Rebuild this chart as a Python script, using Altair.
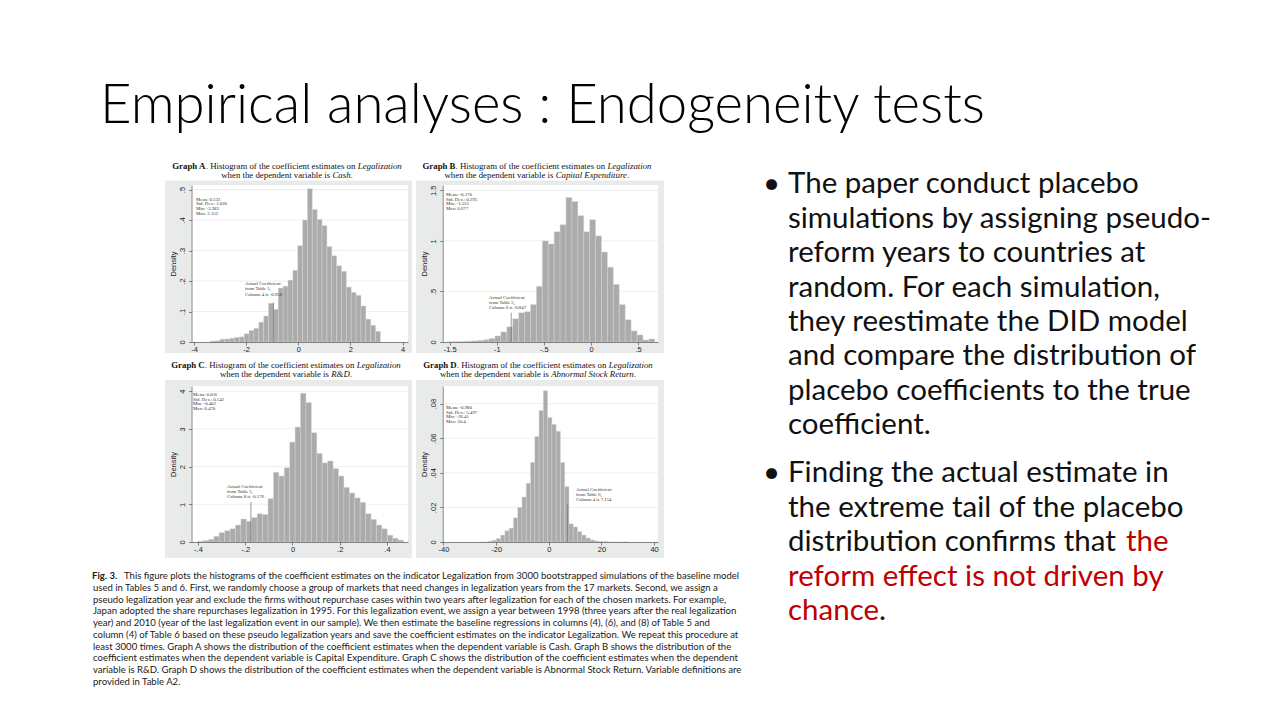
import altair as alt
import pandas as pd

# ---------------- values ----------------
slide_title = "Empirical analyses : Endogeneity tests"

bullet1 = ["The paper conduct placebo", "simulations by assigning pseudo-",
           "reform years to countries at", "random. For each simulation,",
           "they reestimate the DID model", "and compare the distribution of",
           "placebo coefficients to the true", "coefficient."]
bullet2 = ["Finding the actual estimate in", "the extreme tail of the placebo",
           "distribution confirms that"]
bullet2_red = ["the", "reform effect is not driven by", "chance"]
bullet2_end = "."

caption_head = "Fig. 3."
caption_lines = [
    "This figure plots the histograms of the coefficient estimates on the indicator Legalization from 3000 bootstrapped simulations of the baseline model",
    "used in Tables 5 and 6. First, we randomly choose a group of markets that need changes in legalization years from the 17 markets. Second, we assign a",
    "pseudo legalization year and exclude the firms without repurchase cases within two years after legalization for each of the chosen markets. For example,",
    "Japan adopted the share repurchases legalization in 1995. For this legalization event, we assign a year between 1998 (three years after the real legalization",
    "year) and 2010 (year of the last legalization event in our sample). We then estimate the baseline regressions in columns (4), (6), and (8) of Table 5 and",
    "column (4) of Table 6 based on these pseudo legalization years and save the coefficient estimates on the indicator Legalization. We repeat this procedure at",
    "least 3000 times. Graph A shows the distribution of the coefficient estimates when the dependent variable is Cash. Graph B shows the distribution of the",
    "coefficient estimates when the dependent variable is Capital Expenditure. Graph C shows the distribution of the coefficient estimates when the dependent",
    "variable is R&D. Graph D shows the distribution of the coefficient estimates when the dependent variable is Abnormal Stock Return. Variable definitions are",
    "provided in Table A2.",
]

panel_letters = ["A", "B", "C", "D"]
panel_dep = ["Cash", "Capital Expenditure", "R&D", "Abnormal Stock Return"]

cash_density = [0.003, 0.004, 0.009, 0.010, 0.012, 0.015, 0.017, 0.027, 0.038, 0.045,
                0.065, 0.085, 0.127, 0.107, 0.177, 0.183, 0.203, 0.235, 0.316, 0.400,
                0.503, 0.435, 0.402, 0.382, 0.313, 0.283, 0.250, 0.232, 0.180, 0.163,
                0.153, 0.118, 0.075, 0.055, 0.035]
capex_density = [0.003, 0.004, 0.005, 0.008, 0.011, 0.016, 0.022, 0.035, 0.06, 0.10,
                 0.15, 0.23, 0.29, 0.30, 0.37, 0.55, 1.00, 0.97, 1.09, 1.16,
                 1.43, 1.39, 1.25, 1.09, 1.21, 1.05, 0.89, 0.74, 0.57, 0.37,
                 0.22, 0.11, 0.07, 0.02, 0.03]
rd_density = [0.02, 0.04, 0.07, 0.15, 0.25, 0.30, 0.35, 0.45, 0.61, 0.55,
              0.65, 0.75, 0.73, 1.15, 1.85, 1.75, 1.97, 2.65, 3.05, 3.95,
              3.70, 2.90, 2.35, 2.10, 2.15, 1.95, 1.75, 1.45, 1.30, 1.17,
              1.05, 0.75, 0.60, 0.45, 0.35, 0.18, 0.10, 0.05]
asr_density = [0.0, 0.0, 0.0005, 0.001, 0.002, 0.004, 0.0065, 0.008, 0.014, 0.020,
               0.026, 0.034, 0.046, 0.061, 0.076, 0.0875, 0.072, 0.068, 0.064, 0.046,
               0.032, 0.0105, 0.0087, 0.006, 0.004, 0.0023, 0.0012, 0.0006, 0.0003, 0.0002,
               0.0001, 0.0, 0.0, 0.0, 0.0001]

densities = [cash_density, capex_density, rd_density, asr_density]
ranges = [(-3.383, 3.152), (-1.522, 0.677), (-0.402, 0.470), (-26.41, 30.4)]
stats = [["Mean: 0.533", "Std. Dev.: 1.020", "Min: -3.383", "Max: 3.152"],
         ["Mean: -0.170", "Std. Dev.: 0.293", "Min: -1.522", "Max: 0.677"],
         ["Mean: 0.056", "Std. Dev.: 0.142", "Min: -0.402", "Max: 0.470"],
         ["Mean: -0.980", "Std. Dev.: 5.497", "Min: -26.41", "Max: 30.4"]]
actual_coef = [-0.956, -0.847, -0.176, 7.154]
coef_marker_top = [0.13, 0.29, 1.06, 0.0217]
coef_source = ["from Table 5,", "from Table 5,", "from Table 5,", "from Table 6,"]
coef_column = ["Column 4", "Column 6", "Column 8", "Column 4"]

x_ticks = [[-4, -2, 0, 2, 4], [-1.5, -1, -0.5, 0, 0.5], [-0.4, -0.2, 0, 0.2, 0.4], [-40, -20, 0, 20, 40]]
y_ticks = [[0, 0.1, 0.2, 0.3, 0.4, 0.5], [0, 0.5, 1, 1.5], [0, 1, 2, 3, 4], [0, 0.02, 0.04, 0.06, 0.08]]

# ---------------- layout (page pixels) ----------------
W, H = 1264, 704
M = 8  # page margin


def cx(v):
    return v - M


LAYOUT = [
    dict(frame=(165, 412, 180.5, 353), plot=(191.5, 408, 185, 342), xdom=(-4.098, 4.21), ytop=0.515,
         tc=287, ty=(165.7, 175), stats=(196, 196.5), coef=(245, 281)),
    dict(frame=(416, 664, 180.5, 353), plot=(442.7, 658, 185, 342), xdom=(-1.574, 0.711), ytop=1.553,
         tc=537, ty=(165.7, 175), stats=(446, 192), coef=(489, 294.5)),
    dict(frame=(165, 412, 380, 558), plot=(191.5, 408, 386, 542), xdom=(-0.4275, 0.4889), ytop=4.14,
         tc=286, ty=(365, 374), stats=(193, 392), coef=(227, 483.5)),
    dict(frame=(416, 664, 380, 558), plot=(442.7, 658, 386, 542), xdom=(-40.3, 41.5), ytop=0.0902,
         tc=538, ty=(365, 374), stats=(446, 405), coef=(576, 486.5)),
]

# approximate Times metrics (per 1000 em) for placing the mixed-style panel titles
TR = {' ': 250, '.': 250, ',': 250, '&': 778, 'A': 722, 'B': 667, 'C': 667, 'D': 722, 'E': 611,
      'G': 722, 'H': 722, 'L': 611, 'R': 667, 'S': 556, 'a': 444, 'b': 500, 'c': 444, 'd': 500,
      'e': 444, 'f': 333, 'g': 500, 'h': 500, 'i': 278, 'k': 500, 'l': 278, 'm': 778, 'n': 500,
      'o': 500, 'p': 500, 'r': 333, 's': 389, 't': 278, 'u': 500, 'v': 500, 'w': 722, 'x': 500,
      'y': 500, 'z': 444}
TB = {'G': 778, 'r': 444, 'a': 500, 'p': 556, 'h': 556, ' ': 250, 'A': 722, 'B': 667, 'C': 722, 'D': 722}
TI = {' ': 250, '.': 250, '&': 778, 'A': 611, 'C': 667, 'D': 722, 'E': 611, 'L': 556, 'R': 611, 'S': 500,
      'a': 500, 'b': 500, 'c': 444, 'd': 500, 'e': 444, 'g': 500, 'h': 500, 'i': 278, 'k': 444,
      'l': 278, 'm': 722, 'n': 500, 'o': 500, 'p': 500, 'r': 389, 's': 389, 't': 278, 'u': 500,
      'x': 444, 'z': 389}
TFS = 8.8


def tw(s, table):
    return sum(table.get(ch, 500) for ch in s) * TFS / 1000.0


def text_layer(rows, **mk):
    df = pd.DataFrame(rows, columns=["text", "x", "y", "color"])
    return alt.Chart(df).mark_text(**mk).encode(
        x=alt.X("x:Q", scale=None, axis=None),
        y=alt.Y("y:Q", scale=None, axis=None),
        text="text:N",
        color=alt.Color("color:N", scale=None, legend=None),
    )


def rect_layer(x0, x1, y0, y1, fill):
    return alt.Chart(pd.DataFrame({"k": [0]})).mark_rect(fill=fill).encode(
        x=alt.value(cx(x0)), x2=alt.value(cx(x1)), y=alt.value(cx(y0)), y2=alt.value(cx(y1)))


# Stata-style labels: ".5" instead of "0.5"
LBL = "replace(replace(datum.label, '\u2212', '-'), '0.', '.')"


def panel_layers(i):
    lay = LAYOUT[i]
    dens = densities[i]
    lo, hi = ranges[i]
    n = len(dens)
    w = (hi - lo) / n
    df = pd.DataFrame({
        "lo": [lo + k * w for k in range(n)],
        "hi": [lo + (k + 1) * w for k in range(n)],
        "density": dens,
        "zero": [0.0] * n,
    })
    px0, px1, py0, py1 = lay["plot"]

    def xs():
        return alt.Scale(domain=list(lay["xdom"]), range=[cx(px0), cx(px1)], nice=False, zero=False)

    def ys():
        return alt.Scale(domain=[0, lay["ytop"]], range=[cx(py1), cx(py0)], nice=False, zero=False)

    f = lay["frame"]
    frame = rect_layer(f[0], f[1], f[2], f[3], "#E9EBEB")
    white = rect_layer(px0, px1, py0, py1, "#FFFFFF")

    grid = alt.Chart(pd.DataFrame({"t": y_ticks[i][1:]})).mark_rule(
        color="#E2E4E4", strokeWidth=0.6).encode(
        y=alt.Y("t:Q", scale=ys(), axis=None),
        x=alt.value(cx(px0)), x2=alt.value(cx(px1)))

    bars = alt.Chart(df).mark_rect(fill="#ABABAB", stroke="#DADADA", strokeWidth=0.4).encode(
        x=alt.X("lo:Q", scale=xs(), axis=alt.Axis(
            orient="bottom", offset=cx(py1) - H, values=x_ticks[i], format="~r", labelExpr=LBL,
            title=None, grid=False, domainColor="#555", domainWidth=0.7, tickColor="#555",
            tickWidth=0.7, tickSize=3, labelFontSize=7.5, labelFont="Liberation Sans",
            labelColor="#222", labelPadding=0, labelFlush=False, labelOverlap=False, zindex=2)),
        x2="hi:Q",
        y=alt.Y("density:Q", scale=ys(), axis=alt.Axis(
            orient="left", offset=-cx(px0), values=y_ticks[i], format="~r", labelExpr=LBL,
            title="Density", titleFontSize=7.5, titleFont="Liberation Sans", titleFontWeight="normal",
            titleColor="#222", titlePadding=1, grid=False, domainColor="#555", domainWidth=0.7,
            tickColor="#555", tickWidth=0.7, tickSize=3, labelFontSize=7.5,
            labelFont="Liberation Sans", labelColor="#222", labelAngle=270, labelAlign="center",
            labelBaseline="bottom", labelPadding=2, labelFlush=False, labelOverlap=False, zindex=2)),
        y2="zero:Q",
    )

    cdf = pd.DataFrame({"c": [actual_coef[i]], "top": [coef_marker_top[i]], "zero": [0.0]})
    marker = alt.Chart(cdf).mark_rule(color="#707070", strokeWidth=0.7).encode(
        x=alt.X("c:Q", scale=xs(), axis=None),
        y=alt.Y("top:Q", scale=ys(), axis=None),
        y2="zero:Q")

    sx, sy = lay["stats"]
    st = alt.Chart(pd.DataFrame({"k": [0]})).mark_text(
        text="\n".join(stats[i]), lineBreak="\n", align="left", baseline="top",
        font="Liberation Serif", fontSize=4.8, lineHeight=4.7, color="#333").encode(
        x=alt.value(cx(sx)), y=alt.value(cx(sy)))

    lx, ly = lay["coef"]
    label = "Actual Coefficient\n%s\n%s is %.3f" % (coef_source[i], coef_column[i], actual_coef[i])
    cl = alt.Chart(pd.DataFrame({"k": [0]})).mark_text(
        text=label, lineBreak="\n", align="left", baseline="top",
        font="Liberation Serif", fontSize=4.8, lineHeight=5.4, color="#333").encode(
        x=alt.value(cx(lx)), y=alt.value(cx(ly)))

    return [frame, white, grid, bars, marker, st, cl]


# ---------------- panel titles (Times-like, mixed styles) ----------------
tb_rows, tn_rows, ti_rows = [], [], []
for i in range(4):
    lay = LAYOUT[i]
    b = "Graph " + panel_letters[i]
    nrm = ". Histogram of the coefficient estimates on "
    it = "Legalization"
    total = tw(b, TB) + tw(nrm, TR) + tw(it, TI)
    x0 = lay["tc"] - total / 2
    y1, y2 = lay["ty"]
    tb_rows.append([b, cx(x0), cx(y1), "#111"])
    tn_rows.append([nrm, cx(x0 + tw(b, TB)), cx(y1), "#111"])
    ti_rows.append([it, cx(x0 + tw(b, TB) + tw(nrm, TR)), cx(y1), "#111"])
    n2 = "when the dependent variable is "
    i2 = panel_dep[i]
    total2 = tw(n2, TR) + tw(i2, TI) + tw(".", TR)
    x2 = lay["tc"] - total2 / 2
    tn_rows.append([n2, cx(x2), cx(y2), "#111"])
    ti_rows.append([i2, cx(x2 + tw(n2, TR)), cx(y2), "#111"])
    tn_rows.append([".", cx(x2 + tw(n2, TR) + tw(i2, TI)), cx(y2), "#111"])

ptitle_b = text_layer(tb_rows, align="left", baseline="middle", font="Liberation Serif",
                      fontSize=TFS, fontWeight="bold")
ptitle_n = text_layer(tn_rows, align="left", baseline="middle", font="Liberation Serif", fontSize=TFS)
ptitle_i = text_layer(ti_rows, align="left", baseline="middle", font="Liberation Serif",
                      fontSize=TFS, fontStyle="italic")

# ---------------- slide title, bullets, caption ----------------
title = text_layer([[slide_title, cx(100), cx(123), "#000"]], align="left", baseline="alphabetic",
                   font="Lato", fontSize=54.5, fontWeight=300)

BLACK, RED = "#111111", "#C00000"
BFS = 29.5
b1_y = [183, 218, 252, 287, 321, 355, 390, 424]
b2_y = [472, 507, 541, 576, 610]
brows = []
for s, yy in zip(bullet1, b1_y):
    brows.append([s, cx(788), cx(yy + 10), BLACK])
brows.append([bullet2[0], cx(788), cx(b2_y[0] + 10), BLACK])
brows.append([bullet2[1], cx(788), cx(b2_y[1] + 10), BLACK])
brows.append([bullet2[2], cx(788), cx(b2_y[2] + 10), BLACK])
brows.append([bullet2_red[0], cx(1126), cx(b2_y[2] + 10), RED])
brows.append([bullet2_red[1], cx(788), cx(b2_y[3] + 10), RED])
brows.append([bullet2_red[2], cx(788), cx(b2_y[4] + 10), RED])
brows.append([bullet2_end, cx(879), cx(b2_y[4] + 10), BLACK])
bullets = text_layer(brows, align="left", baseline="alphabetic", font="Lato", fontSize=BFS)
dots = text_layer([["•", cx(763), cx(b1_y[0] + 10), BLACK], ["•", cx(763), cx(b2_y[0] + 10), BLACK]],
                  align="left", baseline="alphabetic", font="Lato", fontSize=BFS)

CFS = 9.55
cap_y = [576 + 11.75 * k for k in range(len(caption_lines))]
crows = [[caption_lines[0], cx(124), cx(cap_y[0]), "#1a1a1a"]]
for k in range(1, len(caption_lines)):
    crows.append([caption_lines[k], cx(93), cx(cap_y[k]), "#1a1a1a"])
caption = text_layer(crows, align="left", baseline="middle", font="Lato", fontSize=CFS)
cap_head = text_layer([[caption_head, cx(92), cx(cap_y[0]), "#1a1a1a"]], align="left",
                      baseline="middle", font="Lato", fontSize=CFS, fontWeight="bold")

layers = [title, dots, bullets, caption, cap_head]
for i in range(4):
    layers += panel_layers(i)
layers += [ptitle_b, ptitle_n, ptitle_i]

chart = alt.layer(*layers).resolve_scale(x="independent", y="independent").properties(
    width=W, height=H, padding=0, autosize=alt.AutoSizeParams(type="none"), background="white"
).configure_view(stroke=None)

chart.save("out.html", embed_options={"renderer": "svg", "actions": False})
